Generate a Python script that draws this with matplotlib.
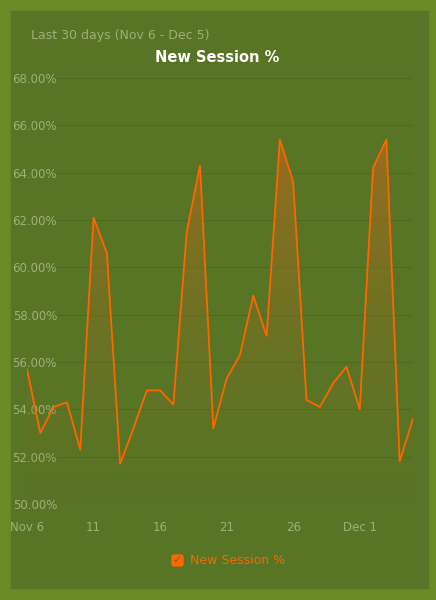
import numpy as np
import matplotlib.pyplot as plt
from matplotlib.patches import Rectangle, FancyBboxPatch
from matplotlib.colors import LinearSegmentedColormap

# Data
days = np.arange(30)
values = [55.7, 53.0, 54.1, 54.3, 52.3, 62.1, 60.6, 51.7, 53.2, 54.8,
          54.8, 54.2, 61.5, 64.3, 53.2, 55.3, 56.3, 58.8, 57.1, 65.4,
          63.6, 54.4, 54.1, 55.1, 55.8, 54.0, 64.2, 65.4, 51.8, 53.6]
tick_pos = [0, 5, 10, 15, 20, 25]
tick_labels = ['Nov 6', '11', '16', '21', '26', 'Dec 1']
yticks = np.arange(50, 69, 2)

W, H = 436, 600
fig = plt.figure(figsize=(4.36, 6), dpi=100)
fig.patch.set_facecolor('#6a8a26')
bg = fig.add_axes([0, 0, 1, 1], zorder=0)
bg.axis('off')
bg.set_xlim(0, W)
bg.set_ylim(H, 0)
bg.add_patch(Rectangle((11, 11), 417, 577, color='#587425'))
bg.add_patch(FancyBboxPatch((172, 555), 11, 11, boxstyle='round,pad=0,rounding_size=2',
                            color='#ff6600'))
bg.text(177.5, 560.5, '✓', color='#587425', fontsize=8, ha='center', va='center',
        fontweight='bold')
bg.text(190, 560, 'New Session %', color='#ff6600', fontsize=9, va='center')
bg.text(31, 36, 'Last 30 days (Nov 6 - Dec 5)', color='#9fb07a', fontsize=9, va='center')
bg.text(217, 58, 'New Session %', color='white', fontsize=10.5, fontweight='bold',
        ha='center', va='center')

ax = fig.add_axes([27 / W, 1 - 504 / H, 386 / W, 426 / H], zorder=2)
ax.set_facecolor('none')
ax.set_ylim(50, 68)
ax.set_xlim(0, 29)
for v in yticks:
    ax.axhline(v, xmin=30 / 386, xmax=1, color='#4d6a1f', lw=0.8, zorder=1)
ax.plot(days, values, color='#ff6600', lw=1.3, zorder=3)

# gradient fill under the line
grad = np.linspace(0, 1, 256).reshape(-1, 1)
cmap = LinearSegmentedColormap.from_list('g', [(0.45, 0.45, 0.15, 0.0), (0.72, 0.42, 0.1, 0.9)])
im = ax.imshow(grad, extent=[0, 29, 50, 68], origin='lower', aspect='auto', cmap=cmap, zorder=2)
poly = ax.fill_between(days, values, 50, color='none')
im.set_clip_path(poly.get_paths()[0], transform=ax.transData)

ax.set_yticks(yticks)
ax.set_yticklabels([f'{v:.2f}%' for v in yticks])
ax.set_xticks(tick_pos)
ax.set_xticklabels(tick_labels)
ax.tick_params(length=0, colors='#9fb07a', labelsize=8.5)
ax.tick_params(axis='y', pad=-21.6)
ax.tick_params(axis='x', pad=12)
for s in ax.spines.values():
    s.set_visible(False)

fig.savefig('out.png', dpi=100, facecolor=fig.get_facecolor())
